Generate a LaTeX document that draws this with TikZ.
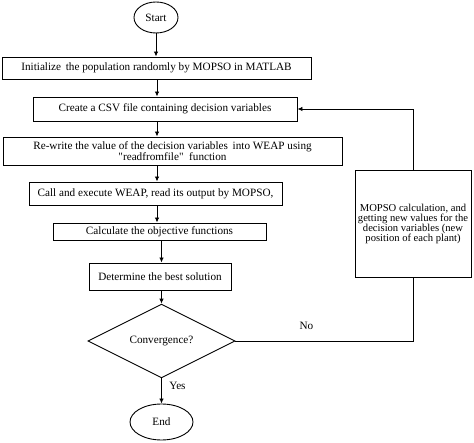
\documentclass[tikz,border=0pt]{standalone}
\usepackage{fontspec}
\setmainfont{Liberation Serif}
\usetikzlibrary{shapes.geometric,arrows.meta}

\begin{document}
\begin{tikzpicture}[x=1pt,y=-1pt,line width=0.9pt,
    font=\fontsize{11.2}{11.5}\selectfont,
    stepbox/.style={draw,rectangle,inner sep=0pt,align=center},
    termbox/.style={draw,ellipse,inner sep=0pt},
    flow/.style={-{Latex[length=5pt,width=4.5pt]}}]
\useasboundingbox (0,0) rectangle (474,443);
\node[termbox,minimum width=44pt,minimum height=31pt] (start) at (156,17.5) {Start}; % Start
\node[stepbox,minimum width=309pt,minimum height=22pt] (init) at (156.5,68) {Initialize\, the population randomly by MOPSO in MATLAB}; % init
\node[stepbox,minimum width=264pt,minimum height=24pt] (csv) at (165,109) {Create a CSV file containing decision variables}; % csv
\node[stepbox,minimum width=339pt,minimum height=28pt] (rewrite) at (172.5,151) {Re-write the value of the decision variables\, into WEAP using\\\textquotedbl readfromfile\textquotedbl\ \ function}; % rewrite
\node[stepbox,minimum width=253pt,minimum height=23pt] (call) at (155.5,193.5) {Call and execute WEAP, read its output by MOPSO,}; % call
\node[stepbox,minimum width=213pt,minimum height=17pt] (calc) at (159.5,231.5) {Calculate the objective functions}; % calc
\node[stepbox,minimum width=142pt,minimum height=27pt] (best) at (160,276.5) {Determine the best solution}; % best
\node[draw,diamond,inner sep=0pt,minimum width=147pt,minimum height=58pt] (conv) at (161.5,341) {Convergence?}; % conv
\node[termbox,minimum width=63pt,minimum height=36pt] (end) at (161.5,422) {End}; % End
\node[stepbox,minimum width=116pt,minimum height=107pt,font=\fontsize{10.6}{10}\selectfont] (mopso) at (413,223.5) {MOPSO calculation, and\\getting new values for the\\decision variables (new\\position of each plant)}; % mopso
\coordinate (spine) at (157,0); % main column
\draw[flow] (start) -- (start |- init.north) ; % start-init
\draw[flow] (init.south -| spine) -- (csv.north -| spine) ; % init-csv
\draw[flow] (csv.south -| spine) -- (rewrite.north -| spine) ; % csv-rewrite
\draw[flow] (rewrite.south -| spine) -- (call.north -| spine) ; % rewrite-call
\draw[flow] (call.south -| spine) -- (calc.north -| spine) ; % call-calc
\draw[flow] (calc.south -| conv) -- (best.north -| conv) ; % calc-best
\draw[flow] (best.south -| conv) -- (conv.north) ; % best-conv
\draw[flow] (conv.south) -- (end.north) node[pos=0.3,right=4pt] {Yes} ; % yes
\draw (conv.east) -| (mopso.south) node[pos=0.2,above=8pt] {No} ; % no
\draw[flow] (mopso.north) |- (csv.east) ; % back to csv
\end{tikzpicture}
\end{document}
